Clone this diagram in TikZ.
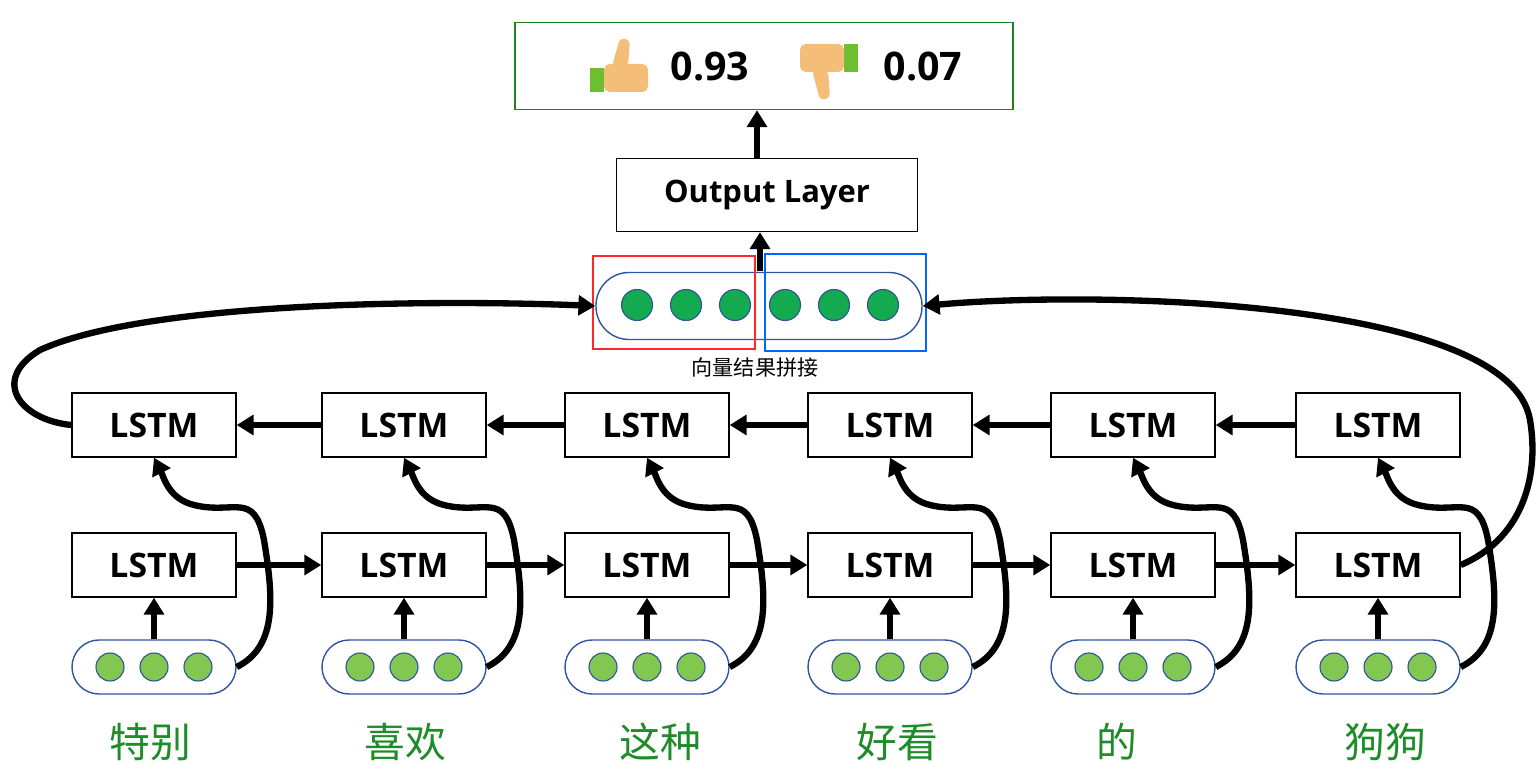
\documentclass[tikz,border=0pt]{standalone}
\usepackage{fontspec}
\setmainfont{Open Sans}
\newfontfamily\cjk{Noto Sans CJK SC}
\usetikzlibrary{arrows.meta}
\definecolor{boxgreen}{RGB}{30,130,30}
\definecolor{pillblue}{RGB}{47,84,160}
\definecolor{dotdark}{RGB}{20,170,80}
\definecolor{dotlight}{RGB}{130,200,80}
\definecolor{wordgreen}{RGB}{30,140,40}
\definecolor{skin}{RGB}{245,190,120}
\definecolor{cuff}{RGB}{110,190,50}
\tikzset{
  lstm/.style={draw,line width=1pt,minimum width=164\pxu,minimum height=64\pxu,font=\fontsize{24}{24}\selectfont\bfseries},
  pill/.style={draw=pillblue,line width=1pt,rounded corners=27\pxu,minimum width=164\pxu,minimum height=54\pxu},
  flow/.style={line width=4.5pt,-{Triangle[length=12pt,width=14pt]}},
  word/.style={text=wordgreen,font=\cjk\fontsize{29}{29}\selectfont},
}
\newlength\pxu
\setlength\pxu{0.025cm}
\begin{document}
\begin{tikzpicture}[x=0.025cm,y=-0.025cm]
\useasboundingbox (0,0) rectangle (1538,766);

% result box
\node[draw=boxgreen,line width=1pt,minimum width=498\pxu,minimum height=87\pxu] (result) at (764,66) {};
\node[font=\fontsize{28}{28}\selectfont\bfseries] (pos) at (710,66) {0.93};
\node[font=\fontsize{28}{28}\selectfont\bfseries] (neg) at (923,66) {0.07};
% thumbs
\fill[cuff] (590,68) rectangle (604,92);
\fill[skin,rounded corners=4pt] (604,64) rectangle (648,92);
\fill[skin,rounded corners=3pt] (612,66) -- (620,38) -- (630,40) -- (628,66) -- cycle;
\fill[cuff] (844,44) rectangle (858,72);
\fill[skin,rounded corners=4pt] (800,44) rectangle (844,72);
\fill[skin,rounded corners=3pt] (812,70) -- (820,100) -- (830,98) -- (828,70) -- cycle;

\node[draw,line width=1pt,minimum width=301\pxu,minimum height=73\pxu,font=\fontsize{22}{22}\selectfont\bfseries] (output) at (767,195) {Output Layer};
\draw[flow] (757,158) -- (result.south -| 757,0);

% concatenated vector
\node[draw=pillblue,line width=1pt,rounded corners=33\pxu,minimum width=326\pxu,minimum height=67\pxu] (concat) at (759,306) {};
\foreach \cx in {637,686,735,785,834,883}
  \fill[dotdark,draw=pillblue,line width=0.8pt] (\cx,305) circle (15.5);
\draw[red!85,line width=1.5pt] (593,256) rectangle (755,349);
\draw[blue!60!cyan,line width=1.5pt] (765,254) rectangle (926,351);
\node[font=\cjk\fontsize{15}{15}\selectfont] (caption) at (755,368) {向量结果拼接};
\draw[flow] (760,271) -- (output.south -| 760,0);

% columns
\foreach \i/\x/\wx/\w in {1/154/150/特别,2/404/405/喜欢,3/647/660/这种,4/890/897/好看,5/1133/1117/的,6/1378/1385/狗狗}{
  \node[lstm] (top\i) at (\x,425) {LSTM};
  \node[lstm] (bot\i) at (\x,565) {LSTM};
  \node[pill] (in\i) at (\x,667) {};
  \foreach \d in {-44,0,44}
    \fill[dotlight,draw=pillblue,line width=0.8pt] (\x+\d,667) circle (14);
  \node[word] (w\i) at (\wx,742) {\w};
  \draw[flow] (in\i.north) -- (bot\i.south);
  \draw[flow] (in\i.east) .. controls +(40,-20) and +(10,60) .. (\x+110,540)
     .. controls +(-10,-50) and +(40,10) .. (\x+40,505)
     .. controls +(-25,-6) and +(10,20) .. (top\i.south);
}
\foreach \a/\b in {1/2,2/3,3/4,4/5,5/6}{
  \draw[flow] (bot\a.east) -- (bot\b.west);
  \draw[flow] (top\b.west) -- (top\a.east);
}

% long connections
\draw[flow] (top1.west) .. controls (20,420) and (-10,380) .. (40,350)
   .. controls (150,300) and (450,300) .. (concat.west);
\draw[flow] (bot6.east) .. controls (1520,540) and (1540,480) .. (1530,420)
   .. controls (1510,300) and (1100,290) .. (concat.east);
\end{tikzpicture}
\end{document}
